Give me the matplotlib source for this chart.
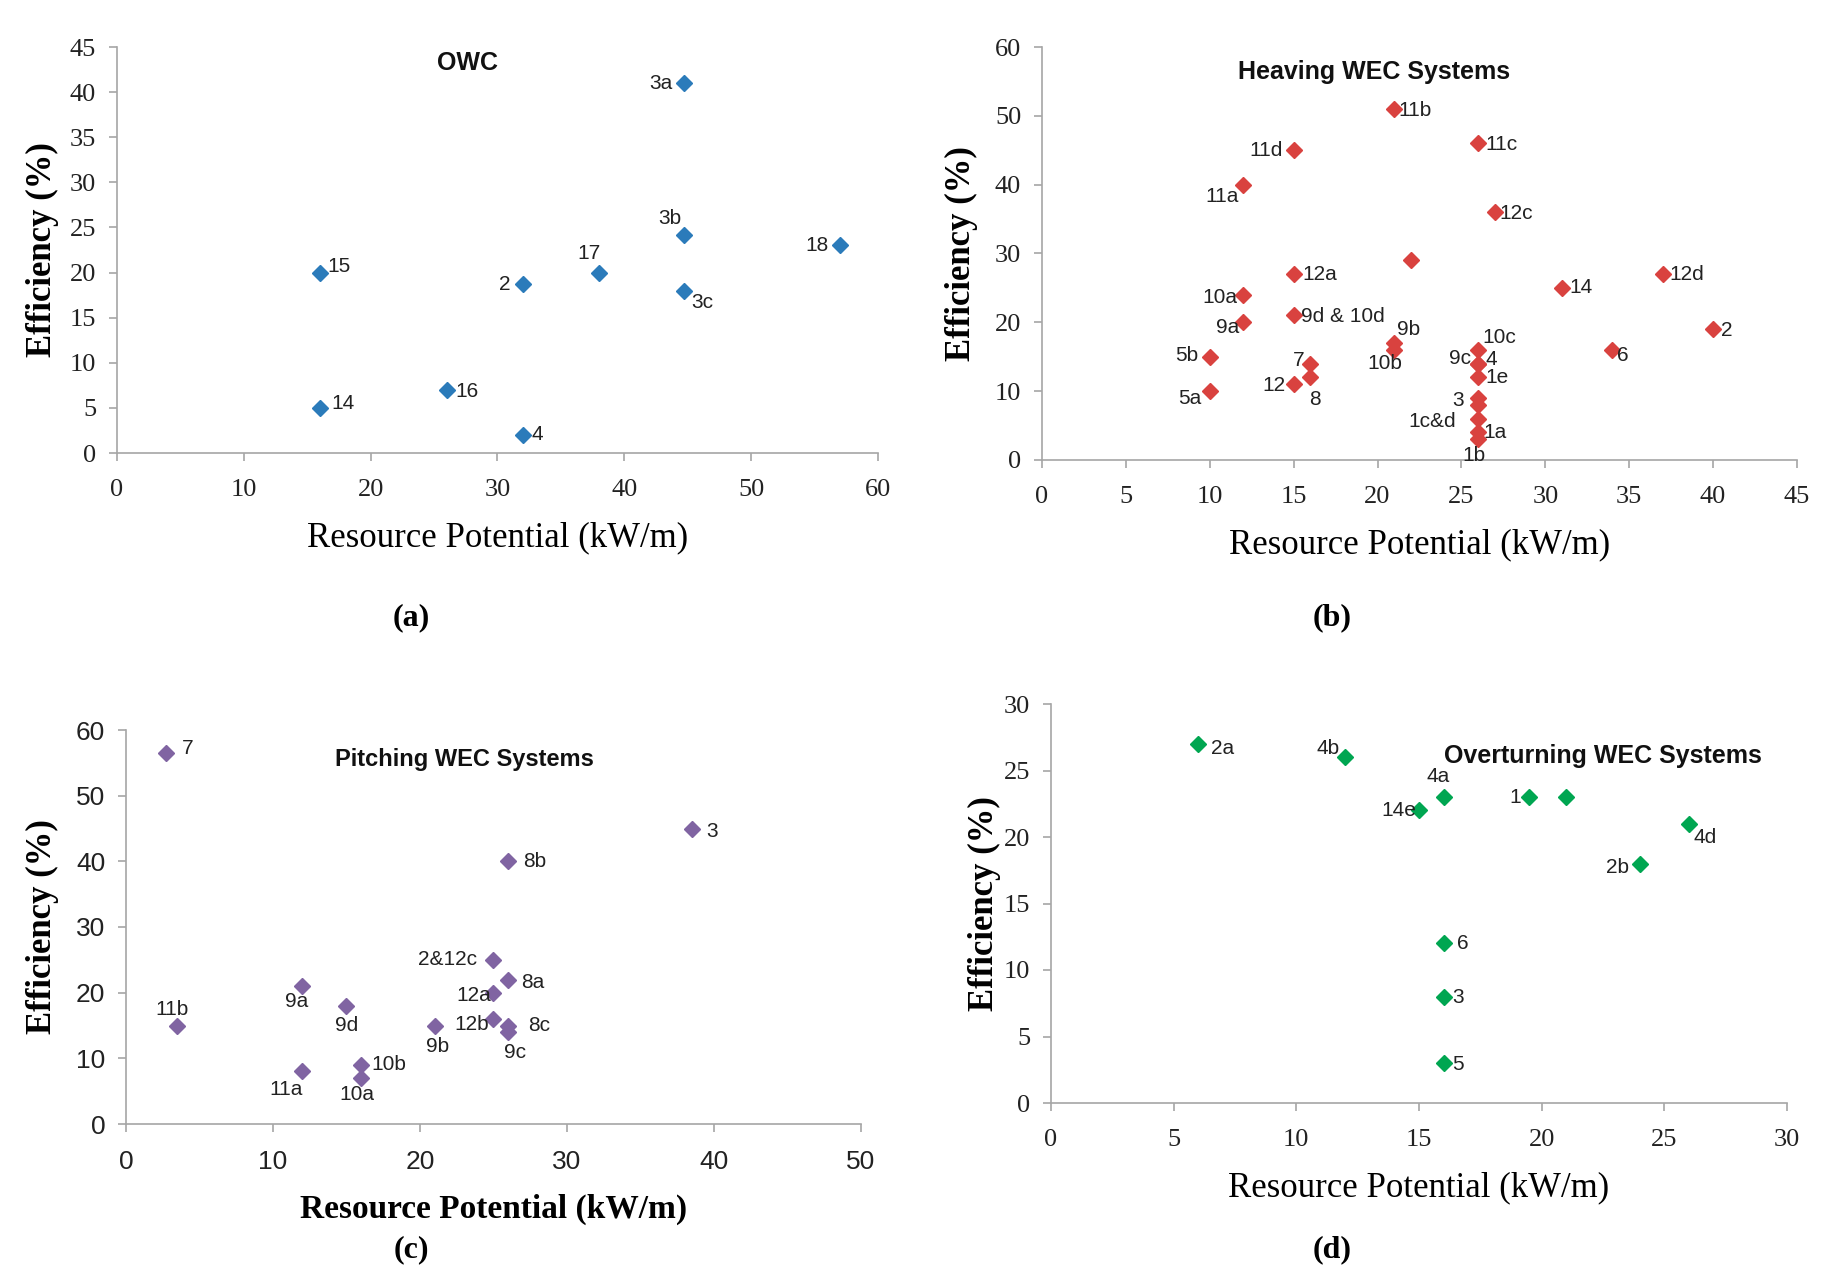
import matplotlib
matplotlib.use("Agg")
import matplotlib.pyplot as plt

# (a) OWC
owc_names = ["15", "14", "16", "2", "4", "17", "3a", "3b", "3c", "18"]
owc_x = [16, 16, 26, 32, 32, 38, 44.7, 44.7, 44.7, 57]
owc_y = [20, 5, 7, 18.7, 2, 20, 41, 24.2, 18, 23]

# (b) Heaving WEC systems
heave_names = ["11b", "11c", "11d", "11a", "12c", "", "12a", "14", "12d", "10a",
               "9d & 10d", "9a", "2", "9b", "10b", "10c", "9c", "4", "6", "5b",
               "7", "8", "12", "5a", "1e", "3", "", "1c&d", "1a", "1b"]
heave_x = [21, 26, 15, 12, 27, 22, 15, 31, 37, 12,
           15, 12, 40, 21, 21, 26, 26, 26, 34, 10,
           16, 16, 15, 10, 26, 26, 26, 26, 26, 26]
heave_y = [51, 46, 45, 40, 36, 29, 27, 25, 27, 24,
           21, 20, 19, 17, 16, 16, 14, 14, 16, 15,
           14, 12, 11, 10, 12, 9, 8, 6, 4, 3]

# (c) Pitching WEC systems
pitch_names = ["7", "11b", "9a", "11a", "9d", "10b", "10a", "9b", "2&12c",
               "12a", "12b", "8a", "8b", "8c", "9c", "3"]
pitch_x = [2.7, 3.5, 12, 12, 15, 16, 16, 21, 25, 25, 25, 26, 26, 26, 26, 38.5]
pitch_y = [56.5, 15, 21, 8, 18, 9, 7, 15, 25, 20, 16, 22, 40, 15, 14, 45]

# (d) Overturning WEC systems
over_names = ["2a", "4b", "4a", "14e", "1", "", "4d", "2b", "6", "3", "5"]
over_x = [6, 12, 16, 15, 19.5, 21, 26, 24, 16, 16, 16]
over_y = [27, 26, 23, 22, 23, 23, 21, 18, 12, 8, 3]

# label placement: (dx, dy) in points, ha, va
def R(dx=5, dy=0):
    return ((dx, dy), "left", "center")


def L(dx=-7, dy=0):
    return ((dx, dy), "right", "center")


owc_pos = {"15": R(5, 4), "14": R(8, 3), "16": R(6, -1), "2": L(-9), "4": R(6),
           "17": ((1, 7), "right", "bottom"), "3a": L(-8),
           "3b": ((-2, 5), "right", "bottom"), "3c": ((5, -2), "left", "top"),
           "18": L(-8)}
heave_pos = {"11b": R(3, -1), "11c": R(5, -1), "11d": L(-8), "11a": ((-3, -2), "right", "top"),
             "12c": R(3, -1), "12a": R(6), "14": R(5), "12d": R(5),
             "10a": L(-4, -2), "9d & 10d": R(5, -1), "9a": L(-3, -4), "2": R(6, -1),
             "9b": ((2, 3), "left", "bottom"), "10b": ((6, -3), "right", "top"),
             "10c": ((3, 2), "left", "bottom"), "9c": L(-5, 4), "4": R(5, 3),
             "6": R(3, -4), "5b": L(-8, 1),
             "7": L(-4, 2), "8": ((-1, -9), "left", "top"),
             "12": L(-6, -1), "5a": L(-6, -5), "1e": R(5),
             "3": L(-10, -2), "1c&d": L(-16, -2),
             "1a": R(4), "1b": ((-3, -5), "center", "top")}
pitch_pos = {"7": R(12, 3), "11b": ((-4, 5), "center", "bottom"),
             "9a": ((-4, -4), "center", "top"), "11a": ((0, -6), "right", "top"),
             "9d": ((0, -7), "center", "top"), "10b": R(7),
             "10a": ((-3, -5), "center", "top"), "9b": ((2, -8), "center", "top"),
             "2&12c": L(-12), "12a": L(-2, -2),
             "12b": L(-3, -4), "8a": R(9, -2),
             "8b": R(11), "8c": R(14), "9c": ((5, -8), "center", "top"), "3": R(10, -2)}
over_pos = {"2a": R(9, -3), "4b": L(-4, 6),
            "4a": ((-4, 8), "center", "bottom"), "14e": L(-2),
            "1": L(-6), "4d": ((3, -3), "left", "top"), "2b": L(-8, -3),
            "6": R(10), "3": R(6, -1), "5": R(6, -1)}

serif = "Liberation Serif"
sans = ["Liberation Sans Narrow", "Liberation Sans", "DejaVu Sans"]

W, H = 1840, 1284
fig = plt.figure(figsize=(W / 100, H / 100), dpi=100)


def make_axes(x0, x1, ytop, ybot):
    return fig.add_axes([x0 / W, 1 - ybot / H, (x1 - x0) / W, (ybot - ytop) / H])


def draw_panel(ax, xs, ys, names, pos, color, xmax, xstep, ymax, ystep, title,
               title_xy, title_size, tick_font, label_bold_x, ylabel_pad=12):
    ax.plot(xs, ys, linestyle="none", marker="D", markersize=8,
            color=color, markeredgecolor=color)
    for x, y, n in zip(xs, ys, names):
        if not n:
            continue
        (dx, dy), ha, va = pos[n]
        ax.annotate(n, (x, y), xytext=(dx, dy), textcoords="offset points",
                    ha=ha, va=va, fontsize=15, family=sans, color="#222222")
    ax.set_xlim(0, xmax)
    ax.set_ylim(0, ymax)
    ax.set_xticks(range(0, xmax + 1, xstep))
    ax.set_yticks(range(0, ymax + 1, ystep))
    for s in ["top", "right"]:
        ax.spines[s].set_visible(False)
    for s in ["left", "bottom"]:
        ax.spines[s].set_color("#a6a6a6")
        ax.spines[s].set_linewidth(1.2)
    ax.tick_params(direction="out", length=6, width=1.2, color="#a6a6a6",
                   labelsize=19, labelcolor="#222222")
    ax.tick_params(axis="x", pad=13)
    ax.tick_params(axis="y", pad=9)
    for lab in ax.get_xticklabels() + ax.get_yticklabels():
        lab.set_family(tick_font)
    ax.text(title_xy[0], title_xy[1], title, transform=ax.transAxes,
            ha="center", va="center", fontsize=title_size, fontweight="bold",
            family=sans, color="#111111")
    if label_bold_x:
        ax.set_xlabel("Resource Potential (kW/m)", family=serif, fontsize=24,
                      fontweight="bold", labelpad=14)
    else:
        ax.set_xlabel("Resource Potential (kW/m)", family=serif, fontsize=25,
                      labelpad=14)
    ax.set_ylabel("Efficiency (%)", family=serif, fontsize=25,
                  fontweight="bold", labelpad=ylabel_pad)


ax_a = make_axes(117, 878, 47, 453)
draw_panel(ax_a, owc_x, owc_y, owc_names, owc_pos, "#2b7bba", 60, 10, 45, 5,
           "OWC", (0.46, 0.96), 18, serif, False, 8)

ax_b = make_axes(1042, 1797, 47, 460)
draw_panel(ax_b, heave_x, heave_y, heave_names, heave_pos, "#d9423f", 45, 5, 60, 10,
           "Heaving WEC Systems", (0.44, 0.94), 18, serif, False)

ax_c = make_axes(126, 861, 730, 1124)
draw_panel(ax_c, pitch_x, pitch_y, pitch_names, pitch_pos, "#8064a2", 50, 10, 60, 10,
           "Pitching WEC Systems", (0.46, 0.925), 17, sans, True)

ax_d = make_axes(1051, 1787, 704, 1103)
draw_panel(ax_d, over_x, over_y, over_names, over_pos, "#00a651", 30, 5, 30, 5,
           "Overturning WEC Systems", (0.75, 0.87), 18, serif, False, 2)

for lab, x, y in [("(a)", 411, 618), ("(b)", 1332, 618), ("(c)", 411, 1250), ("(d)", 1332, 1250)]:
    fig.text(x / W, 1 - y / H, lab, ha="center", va="center", fontsize=23,
             fontweight="bold", family=serif)

fig.savefig("out.png", dpi=100)
